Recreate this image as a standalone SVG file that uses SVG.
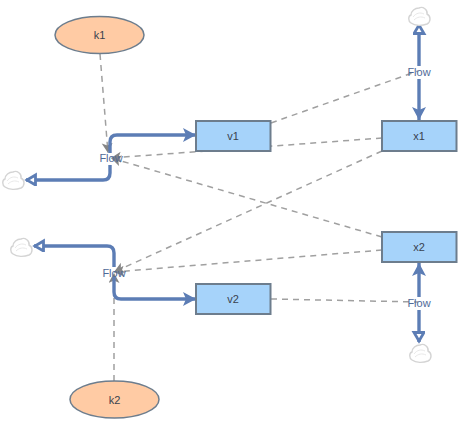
<svg xmlns="http://www.w3.org/2000/svg" width="474" height="434" viewBox="0 0 474 434">
<style>
text{font-family:"Liberation Sans",Arial,sans-serif;font-size:11px;text-anchor:middle}
.lbl{fill:#39424e}
.flowl{fill:#4f6a98}
.box{fill:#a6d3fa;stroke:#6d7d8d;stroke-width:2}
.oval{fill:#ffcba4;stroke:#6d7d8d;stroke-width:1.5}
.flow{fill:none;stroke:#5c7db5;stroke-width:3.4}
.dash{fill:none;stroke:#a0a0a0;stroke-width:1.5;stroke-dasharray:6 5}
.cloud{fill:#fff;stroke:#d4d4d4;stroke-width:1.4}
.cl2{fill:none;stroke:#e2e2e2;stroke-width:.8}
</style>
<defs>
<marker id="fa" markerUnits="userSpaceOnUse" markerWidth="15" markerHeight="16" refX="13" refY="7" orient="auto"><path d="M0,0L13,7L0,14L3,7Z" fill="#5c7db5"/></marker>
<marker id="oa" markerUnits="userSpaceOnUse" markerWidth="14" markerHeight="14" refX="11" refY="6" orient="auto"><path d="M1.500,1L10,6L1.500,11Z" fill="#fff" stroke="#5c7db5" stroke-width="2.800"/></marker>
<marker id="da" markerUnits="userSpaceOnUse" markerWidth="13" markerHeight="13" refX="10" refY="5.500" orient="auto"><path d="M0,0L10,5.500L0,11L2.500,5.500Z" fill="#858585"/></marker>
<symbol id="cloud" viewBox="0 0 22 20" overflow="visible"><path class="cloud" d="M3,17C0,15 0,10 3,9C3,5 7,2 11,2C15,0 20,4 19,8C23,10 23,16 19,18C14,20 7,20 3,17Z"/><path class="cl2" d="M5,11C8,7 12,6 16,8M6,14C9,11 13,10 17,12"/></symbol>
</defs>
<g id="connectors">
<path class="dash" marker-end="url(#da)" d="M100,54L108,153"/>
<path class="dash" marker-end="url(#da)" d="M382,138L111,158"/>
<path class="dash" marker-end="url(#da)" d="M382,237L111,158"/>
<path class="dash" d="M271,123L418,71"/>
<path class="dash" marker-end="url(#da)" d="M382,151L114,272"/>
<path class="dash" marker-end="url(#da)" d="M382,250L114,272"/>
<path class="dash" marker-end="url(#da)" d="M114,381L114,273"/>
<path class="dash" d="M271,299L418,302"/>
<path class="flow" marker-end="url(#fa)" d="M110,153V142Q110,135 117,135H196"/>
<path class="flow" marker-end="url(#oa)" d="M110,165V173Q110,180 103,180H26"/>
<path class="flow" marker-end="url(#oa)" d="M114,267V253Q114,246 107,246H34"/>
<path class="flow" marker-end="url(#fa)" d="M114,277V292Q114,299 121,299H196"/>
<path class="flow" marker-end="url(#oa)" d="M419,66V24"/>
<path class="flow" marker-end="url(#fa)" d="M419,79V120"/>
<path class="flow" marker-end="url(#fa)" d="M419,297V263"/>
<path class="flow" marker-end="url(#oa)" d="M419,310V342"/>
</g>
<g id="k1"><ellipse class="oval" cx="99.500" cy="35" rx="44.500" ry="18.500"/><text class="lbl" x="99.500" y="39">k1</text></g>
<g id="k2"><ellipse class="oval" cx="114.500" cy="399.500" rx="44.500" ry="18.500"/><text class="lbl" x="114.500" y="403.500">k2</text></g>
<g id="v1"><rect class="box" x="196" y="121" width="74.500" height="30"/><text class="lbl" x="233" y="140">v1</text></g>
<g id="v2"><rect class="box" x="196" y="284" width="74.500" height="30"/><text class="lbl" x="233" y="303">v2</text></g>
<g id="x1"><rect class="box" x="382" y="121" width="74.500" height="30"/><text class="lbl" x="419" y="140">x1</text></g>
<g id="x2"><rect class="box" x="382" y="232" width="74.500" height="30"/><text class="lbl" x="419" y="251">x2</text></g>
<g id="flow1"><text class="flowl" x="111" y="162">Flow</text></g>
<g id="flow2"><text class="flowl" x="114" y="277">Flow</text></g>
<g id="flow3"><text class="flowl" x="419" y="76">Flow</text></g>
<g id="flow4"><text class="flowl" x="419" y="307">Flow</text></g>
<g id="cloud1"><use href="#cloud" x="2" y="170" width="22" height="20"/></g>
<g id="cloud2"><use href="#cloud" x="10" y="237" width="22" height="20"/></g>
<g id="cloud3"><use href="#cloud" x="408" y="6" width="22" height="20"/></g>
<g id="cloud4"><use href="#cloud" x="409" y="343" width="22" height="20"/></g>
</svg>
